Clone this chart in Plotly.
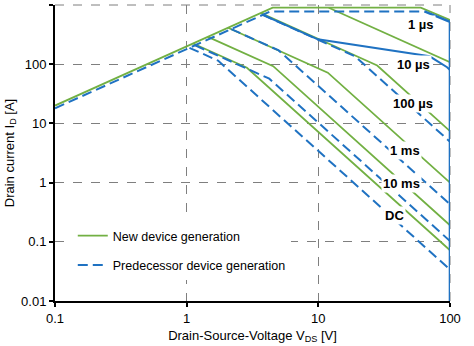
import numpy as np
import plotly.graph_objects as go

# ---------------- data (V_DS in V, I_D in A) ----------------
# New device generation (green, solid)
g_1us_v = [0.1, 4.5, 60, 100, 100]
g_1us_i = [20, 900, 900, 560, 0.01]
g_10us_v = [12, 100]
g_10us_i = [900, 108]
g_100us_v = [3.66, 28, 100]
g_100us_i = [732, 95, 7.4]
g_1ms_v = [2.06, 11.8, 100]
g_1ms_i = [412, 72, 1.0]
g_10ms_v = [1.45, 4.54, 100]
g_10ms_i = [290, 92.5, 0.19]
g_dc_v = [1.12, 2.87, 100]
g_dc_i = [224, 87, 0.072]

# Predecessor device generation (blue, dashed)
b_1us_v = [0.1, 4.33, 64]
b_1us_i = [18, 780, 780]
b_edge_v = [64, 92, 100, 100]
b_edge_i = [780, 570, 520, 0.01]
b_10us_v = [3.79, 9.9, 70, 95, 100]
b_10us_i = [681, 263, 136, 89, 80]
b_100us_v = [3.79, 19, 100]
b_100us_i = [681, 136, 4.9]
b_1ms_v = [2.18, 5.0, 100]
b_1ms_i = [392, 171, 0.43]
b_10ms_v = [1.16, 4.24, 100]
b_10ms_i = [208, 57, 0.103]
b_dc_v = [1.05, 1.73, 100]
b_dc_i = [189, 115, 0.034]

# curve labels
label_text = ["1 µs", "10 µs", "100 µs", "1 ms", "10 ms", "DC"]
label_v = [60, 53, 52, 45.5, 43, 38]
label_i = [469, 100, 21.5, 3.5, 0.95, 0.28]

x_ticks = [0.1, 1, 10, 100]
x_ticktext = ["0.1", "1", "10", "100"]
y_ticks = [0.01, 0.1, 1, 10, 100, 1000]
y_ticktext = ["0.01", "0.1", "1", "10", "100", "1000"]

GREEN = "#72B043"
BLUE = "#1F72C2"
GRID = "#7f7f7f"
FONT = "Liberation Sans, Arial, sans-serif"

fig = go.Figure()

green_sets = [(g_1us_v, g_1us_i), (g_10us_v, g_10us_i), (g_100us_v, g_100us_i),
              (g_1ms_v, g_1ms_i), (g_10ms_v, g_10ms_i), (g_dc_v, g_dc_i)]
blue_sets = [(b_1us_v, b_1us_i), (b_100us_v, b_100us_i),
             (b_1ms_v, b_1ms_i), (b_10ms_v, b_10ms_i), (b_dc_v, b_dc_i)]

for k, (v, i) in enumerate(green_sets):
    fig.add_trace(go.Scatter(x=v, y=i, mode="lines",
                             line=dict(color=GREEN, width=1.8),
                             name="New device generation",
                             legendgroup="g", showlegend=(k == 0)))

for k, (v, i) in enumerate(blue_sets):
    fig.add_trace(go.Scatter(x=v, y=i, mode="lines",
                             line=dict(color=BLUE, width=2, dash="10px,5px"),
                             name="Predecessor device generation",
                             legendgroup="b", showlegend=(k == 0)))

fig.add_trace(go.Scatter(x=b_10us_v, y=b_10us_i, mode="lines",
                         line=dict(color=BLUE, width=2), showlegend=False))
fig.add_trace(go.Scatter(x=b_edge_v, y=b_edge_i, mode="lines",
                         line=dict(color=BLUE, width=2.6), showlegend=False))

for t, v, i in zip(label_text, label_v, label_i):
    fig.add_annotation(x=np.log10(v), y=np.log10(i), text="<b>" + t + "</b>",
                       showarrow=False, bgcolor="white", borderpad=1,
                       font=dict(family=FONT, size=13, color="black"))

# dashed frame lines at the top (1000 A) and right (100 V) edges
fig.add_shape(type="line", xref="paper", yref="paper", x0=0, x1=1, y0=1, y1=1,
              line=dict(color=GRID, width=1, dash="dash"), layer="below")
fig.add_shape(type="line", xref="paper", yref="paper", x0=1, x1=1, y0=0, y1=1,
              line=dict(color=GRID, width=1, dash="dash"), layer="below")

axis_common = dict(type="log", showgrid=True, gridcolor=GRID, griddash="dash",
                   gridwidth=1, showline=True, linecolor="black", linewidth=2,
                   ticks="outside", ticklen=4, tickwidth=1.5, tickcolor="black",
                   tickfont=dict(family=FONT, size=13, color="black"),
                   zeroline=False)

fig.update_xaxes(range=[-1, 2], tickvals=x_ticks, ticktext=x_ticktext,
                 title=dict(text="Drain-Source-Voltage V<sub>DS</sub> [V]",
                            font=dict(family=FONT, size=13, color="black"), standoff=6),
                 **axis_common)
fig.update_yaxes(range=[-2, 3], tickvals=y_ticks, ticktext=y_ticktext,
                 title=dict(text="Drain current I<sub>D</sub> [A]",
                            font=dict(family=FONT, size=13, color="black"), standoff=4),
                 **axis_common)

fig.update_layout(
    width=474, height=346,
    margin=dict(l=55, r=24, t=5, b=42),
    plot_bgcolor="white", paper_bgcolor="white",
    showlegend=True,
    legend=dict(x=0.045, y=0.27, xanchor="left", yanchor="top",
                bgcolor="white", borderwidth=0, traceorder="grouped",
                tracegroupgap=10,
                font=dict(family=FONT, size=12.5, color="black")),
)

fig.write_html("out.html")
